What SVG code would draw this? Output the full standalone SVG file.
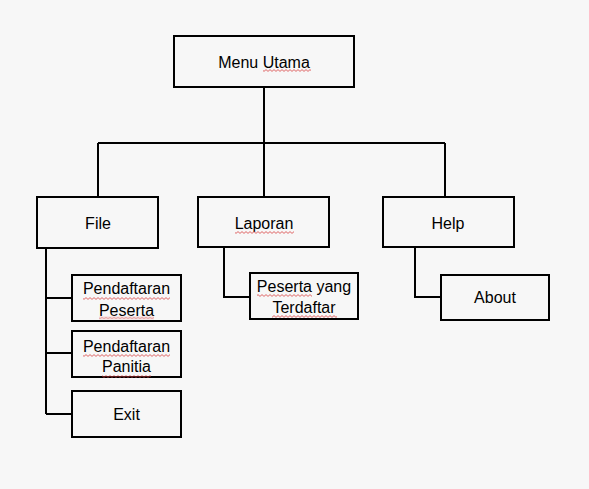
<svg xmlns="http://www.w3.org/2000/svg" width="589" height="489" viewBox="0 0 589 489">
<style>
.box{fill:none;stroke:#000;stroke-width:2}
.conn{fill:none;stroke:#000;stroke-width:2}
text{font-family:"Liberation Sans",Arial,sans-serif;font-size:16px;fill:#000;text-anchor:middle}
.sq{fill:url(#sq)}
</style>
<defs>
<pattern id="sq" width="4" height="3" patternUnits="userSpaceOnUse">
<path d="M0 2.4 L2 0.6 L4 2.4" stroke="#d84040" stroke-width="0.8" fill="none"/>
</pattern>
</defs>
<rect width="589" height="489" fill="#f7f7f7"/>
<g id="connectors">
<path class="conn" d="M264 87 V143 M98 143 H445 M98 143 V197 M264 143 V197 M445 143 V197"/>
<path class="conn" d="M46 248 V414 M46 298 H72 M46 353 H72 M46 414 H72"/>
<path class="conn" d="M224 247 V297 H250"/>
<path class="conn" d="M415 247 V297 H441"/>
</g>
<g id="menu-utama">
<rect class="box" x="174" y="36" width="180" height="51"/>
<text x="264" y="68">Menu Utama</text>
<rect class="sq" x="263" y="69" width="48" height="3"/>
</g>
<g id="file">
<rect class="box" x="37" y="197" width="121" height="51"/>
<text x="98" y="229">File</text>
</g>
<g id="laporan">
<rect class="box" x="198" y="197" width="131" height="50"/>
<text x="264" y="229">Laporan</text>
<rect class="sq" x="235" y="231" width="59" height="3"/>
</g>
<g id="help">
<rect class="box" x="383" y="197" width="131" height="50"/>
<text x="448" y="229">Help</text>
</g>
<g id="pendaftaran-peserta">
<rect class="box" x="72" y="275" width="109" height="46"/>
<text x="126.5" y="294">Pendaftaran</text>
<text x="126.5" y="315.5">Peserta</text>
<rect class="sq" x="83" y="297" width="87" height="3"/>
<rect class="sq" x="99" y="318" width="55" height="3" transform="translate(0,-1.5)"/>
</g>
<g id="pendaftaran-panitia">
<rect class="box" x="72" y="331" width="109" height="46"/>
<text x="126.5" y="351.5">Pendaftaran</text>
<text x="126.5" y="371.5">Panitia</text>
<rect class="sq" x="83" y="354" width="87" height="3"/>
<rect class="sq" x="102" y="375" width="49" height="3"/>
</g>
<g id="exit">
<rect class="box" x="72" y="391" width="109" height="46"/>
<text x="126.5" y="420">Exit</text>
</g>
<g id="peserta-yang-terdaftar">
<rect class="box" x="250" y="273" width="108" height="46"/>
<text x="304" y="292">Peserta yang</text>
<text x="304" y="313">Terdaftar</text>
<rect class="sq" x="257" y="294" width="55" height="3"/>
<rect class="sq" x="272" y="315" width="65" height="3"/>
</g>
<g id="about">
<rect class="box" x="441" y="275" width="108" height="45"/>
<text x="495" y="303">About</text>
</g>
</svg>
